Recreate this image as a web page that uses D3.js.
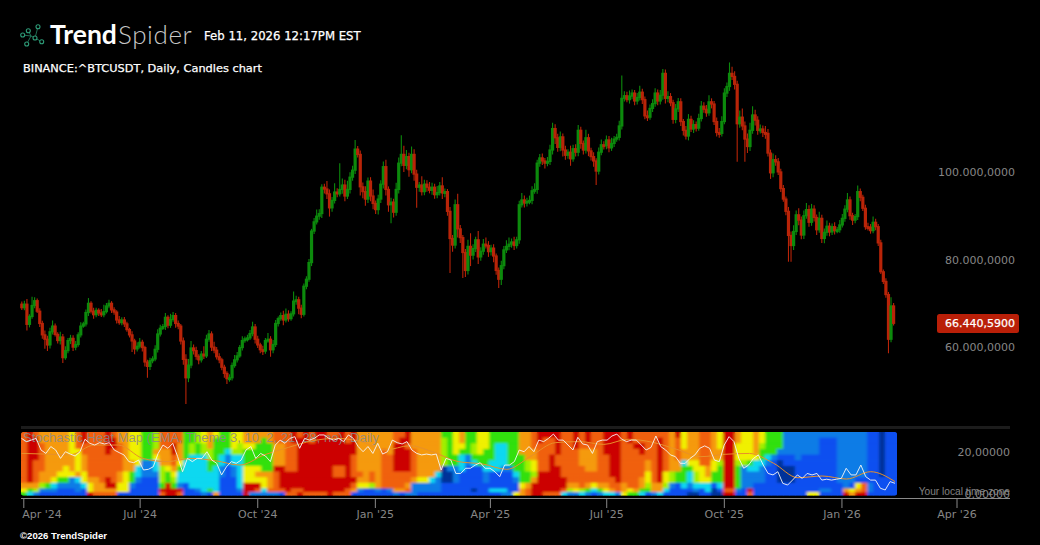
<!DOCTYPE html>
<html><head><meta charset="utf-8">
<script src="https://d3js.org/d3.v7.min.js"></script>
<style>html,body{margin:0;padding:0;background:#000;overflow:hidden}svg{display:block}</style>
</head><body><div id="c"></div>
<script>
// closing prices, thousands USDT, one reading per two trading days from 31 Mar 2024
const closes=[70.0,70.8,66.2,68.0,70.5,71.6,69.2,66.4,63.8,62.8,
61.5,64.5,65.8,63.9,62.5,63.3,58.6,60.2,62.5,63.0,
61.0,61.6,63.8,65.8,66.3,68.9,71.0,69.2,68.4,69.4,
68.8,68.4,69.1,70.4,71.0,69.5,69.0,67.2,66.6,67.2,
66.3,65.0,63.8,62.4,60.6,61.2,62.1,60.9,57.6,56.6,
57.9,58.3,60.5,64.0,65.3,65.7,67.8,66.0,67.3,68.2,
66.4,65.8,62.4,58.2,54.0,56.9,60.8,60.2,58.9,58.1,
59.4,59.0,62.8,64.0,61.0,60.3,58.8,58.1,56.4,55.0,
53.8,54.0,56.8,58.1,59.0,60.9,62.5,62.9,63.1,64.1,
65.6,62.8,61.5,60.4,60.1,62.5,62.8,60.4,61.6,66.4,
67.5,68.2,67.2,68.5,67.5,68.6,71.5,71.8,69.9,68.5,
74.9,76.5,80.3,87.5,89.6,90.9,91.5,97.5,97.1,96.0,
92.8,94.5,96.4,96.0,97.0,98.0,95.5,97.0,99.8,101.4,
106.2,105.0,97.6,96.5,94.8,98.9,95.5,93.8,92.4,94.8,
98.2,102.2,97.0,93.5,94.1,91.8,97.0,103.0,105.0,102.5,
104.5,101.5,105.0,100.5,97.5,98.0,96.5,98.2,97.5,96.8,
97.5,95.8,96.3,97.8,96.2,96.5,92.0,85.8,84.3,93.5,
88.0,86.0,82.6,78.5,84.0,82.0,83.5,85.5,81.6,82.9,
84.5,84.2,82.8,83.6,81.8,78.5,76.5,79.6,83.2,84.0,
84.5,85.0,84.2,85.5,93.5,94.6,93.9,94.3,94.5,96.7,
97.0,103.0,104.2,103.5,103.0,103.4,106.0,110.9,108.8,106.6,
109.0,106.0,104.8,105.5,104.0,106.3,105.5,110.5,107.5,106.0,
108.8,105.8,104.5,103.5,101.2,105.5,107.2,107.0,108.3,106.5,
107.5,108.5,108.9,111.5,117.8,118.4,117.5,118.3,119.0,117.2,
118.0,119.2,117.5,113.8,113.5,115.5,116.6,119.0,117.2,118.5,
123.5,117.8,118.2,116.8,113.0,115.4,117.0,112.5,110.5,109.2,
113.0,110.8,111.8,111.0,113.2,116.0,115.3,114.5,117.0,116.5,
112.5,110.0,109.8,112.5,119.0,120.5,123.5,122.8,121.0,112.0,
113.5,111.5,108.5,106.8,110.5,114.0,112.8,110.5,110.8,110.0,
109.8,105.3,100.8,103.8,103.3,101.0,97.2,94.8,92.0,86.5,
84.2,87.4,91.2,90.0,86.6,91.0,92.4,89.5,92.5,90.6,
87.8,90.4,85.8,87.2,88.6,87.3,88.5,87.6,87.8,88.9,
90.4,92.5,94.6,91.0,90.0,90.8,96.5,95.2,92.7,88.5,
88.4,87.6,89.5,88.5,84.8,78.2,76.0,73.0,62.8,70.4,
66.44];
// wick lengths above and below each candle body, thousands USDT
const upperWicks=[.6,.8,1.2,.5,2,.8,.5,.7,.6,1,
.8,.9,1.3,.6,.5,1.2,.7,1,.6,.8,
.7,.8,.6,.9,.5,.7,1.2,.5,.8,.6,
.5,.9,1.6,.7,.8,.5,.6,.4,.9,.6,
.7,.5,.4,.8,.5,.9,1,.6,.4,.5,
.7,.6,.9,1.1,.8,.6,1,.5,1.3,.8,
.6,.7,.5,.8,1.2,1.4,1.6,.8,.9,.5,
.7,1.8,1,.9,.6,1.2,.7,.8,.5,.6,
.5,.8,.7,1.1,.9,.6,1,.5,.7,.8,
1.2,.7,.8,.5,.9,.6,1.4,.7,1,.8,
.5,.7,1.1,1.3,.9,.6,2.2,.9,.7,.8,
.6,.7,.8,.5,.9,1.5,1,.7,.8,1.8,
1,.8,2,.9,6,1.5,1.2,2,1.1,1,
2.1,.7,.9,1,1.2,.8,.9,1.5,.7,1,
.9,1.2,1.6,.7,1,.8,1.5,1.3,4.4,2,
1.5,.9,1.8,1.2,1,.7,2,1,.9,1.2,
1,.8,1.5,.9,2,.7,.6,1,.8,1.2,
2.5,.9,.6,.8,1.5,3,1,.7,2,.9,
1.2,1.5,1,.8,.9,.6,.7,1.1,.9,1.4,
1.5,.8,1.2,.7,.9,1.6,1,.8,1.1,1,
1.4,.8,.9,1,.7,1,1.2,1.3,1,.9,
1.2,.8,1,.7,1.5,.9,1,1.2,.8,.7,
1.8,.9,.7,1,.6,1.1,1.2,.8,1,.9,
1.3,.7,.8,1.2,5.2,1,.9,1.3,.8,.7,
1,1.5,.8,.7,1.2,.9,1,1.1,.8,1.2,
1,.9,1.2,.8,.7,1.1,.9,.8,.6,1,
1.2,.8,1,.7,1.1,1.2,.9,1,1.5,.8,
.7,.9,1,1.2,1.1,.9,2.5,1.5,1.2,.8,
1.5,2,1,1.3,1.7,2,1.2,.9,1,.8,
1.5,1,.8,1.4,1,.9,.7,.8,.6,1,
.9,1.4,1,1.5,.8,1.2,1.5,1,1.2,.9,
.7,1.5,.8,.9,1.3,.8,.7,1,.6,1.1,
1,.9,1.6,.8,.7,.6,1.4,.7,.6,.8,
.9,.7,1.3,.8,.6,.7,.5,.7,.6,2,
.7];
const lowerWicks=[.5,.6,1.4,.7,.5,.6,.4,.8,.9,2.2,
1.4,.8,.6,.5,.7,.9,1.2,.5,.6,.8,
.9,.7,.5,.6,.4,.6,.8,.5,.9,.6,
.7,.5,.6,.4,.5,.7,.6,.8,.5,.6,
.7,.5,.6,2.5,1.2,.6,.5,.9,1,2.6,
.8,.6,.5,.7,.6,.4,.8,.7,.6,.5,
1,.7,.8,1.2,6,1,.7,.9,.8,1,
.6,.7,.5,.6,.9,.7,.6,.8,.7,1,
1.2,.7,.6,.5,.6,.4,.7,.5,.6,.5,
.6,1,.7,.8,.9,.6,.5,1.6,.8,.6,
.7,.5,1.2,.6,.7,.5,.6,.8,1.4,.9,
.5,.7,.6,.8,.7,.6,.8,1,1,1.2,
2,.9,.7,.8,.6,1,1.2,.7,.9,.8,
.9,.7,2,1.5,1.5,.9,1.2,1.3,1,1.1,
.9,1,1.4,1.6,4.2,1.2,.8,.9,.7,1.5,
.9,1.6,.8,1.5,4.7,1,.9,.8,1,.7,
1,.9,.8,.7,1.4,1,1,7.9,1.5,.8,
2,1.2,5.8,1.5,.9,2.5,1,.8,1.6,.9,
.8,.7,1.2,.9,1.4,1,2,1.3,.8,.7,
.9,.8,1,.7,.9,.6,1,.8,.7,.9,
.7,1,.8,.9,1.2,.7,.8,1,1.4,1,
.9,1.5,1,.8,1.6,.7,1,.9,1.2,1,
.8,1.2,.9,1.3,3.2,.8,.7,.9,.8,1,
.7,.8,.6,.7,.8,.7,.6,.9,.7,1,
.8,.7,1,.8,.9,.6,.8,.7,1,.8,
1,1.2,.9,.8,1,.9,.7,1,1.2,.8,
1,.7,.9,.8,.6,.7,.8,.9,.7,1,
.8,.9,1,.7,.6,.9,1,.8,1.2,8.7,
.9,1,5.2,1.5,1,.8,1.2,1,.7,1,
1.2,.8,1.4,1,.9,.7,.8,.6,.9,6,
3.7,1,.8,1.2,1,.9,.7,1,.8,.9,
1.2,.7,1,1.1,.8,1,.7,.9,.6,.7,
.6,.8,.7,.9,1.1,.7,.8,.9,.6,.7,
.8,.7,.6,.8,.7,.5,.6,.7,3.2,.7,
.5];
// heat-map levels 0 to 9, each string is one column read from top to bottom
const heatColumns=["888888888764","999999999743","899998888752","778888877521","777777777421","777777776321","777777764211","777777664211","666677762211","888666673221",
"998877766311","888888887669","888888887778","888888888778","999988889978","899888888978","778888877661","777777766661","666667744211","666666332111",
"444442221111","444442221111","555763321111","888777555498","888777644999","889988765499","887776433298","444443333111","445533333311","554433333321",
"665533333332","777554433341","644444333337","444433221111","444322111111","666533221111","665533333321","776444666999","776444666992","774444676982",
"744444476632","774444477782","887777988882","887777999981","888888899998","998888899988","899999999989","999999999998","889999999998","999999999998",
"999999999998","899999999999","899999889998","999999889998","889999999988","999988889871","777777787621","777777777611","777777788511","777777777721",
"777888888811","777788888821","889999988872","899999988871","998999988782","777888887222","777777776221","777777776221","777777773221","777777732221",
"455555000111","444444200111","666644222111","776433311111","444422111111","445543111101","666644111111","666444322111","444443311131","443333311131",
"443333211132","444444211112","444444432116","777744444677","777775544788","888776657999","998888899999","988888899998","988899999998","999988999998",
"888888889983","888888888752","999888888762","888777888853","998777788742","888777788631","888888888742","999988888763","999999998873","999999999882",
"888888888776","998888888864","889888888874","889988887743","888887766541","888888888772","899999999773","888888866531","777777755211","988887744111",
"666773444311","777776433210","777776655320","888888666311","888888776331","777776644100","666775444310","999999999989","999999999989","776665444421",
"666665222211","666664322298","777763322111","665443222111","444432111111","444421111111","444210000111","222211000111","222211000111","222221111111",
"222211111111","222211111116","222211111116","211111111121","211111111121","211111111111","222222222111","222222222279","222222222167","222222221679",
"222222221889","111111111221","111111111111","000000001111","111111111111","111111111111"];
const heatPalette=["#003399","#0a50f0","#0a7ce6","#10d8f0","#30e010","#a0f000","#f0f000","#f59a10","#f06010","#cc0000"];
// white %K line and orange %D line of the lower panel
const kLine=[26.8,25.3,26,26.8,21.4,19.8,23,21.4,17.5,20.6,19.5,18.6,20.6,26.4,24.5,23.7,24.8,24.2,24.8,21.4,20.2,19.1,16,15.5,16.7,12.1,12.4,13.6,19.8,23.7,22.2,24.5,18.3,11.3,17.5,16,17.5,17.5,20.6,16.7,15.2,9.8,13.6,16,15.2,
16.7,21.4,23,17.5,19.8,18.6,16,23.7,26,24.5,26.8,27.6,22.2,26.8,26,26.8,28.4,28.4,26.8,26,26.8,25.3,28.4,26.8,23,20.6,23,19.8,24.5,19.5,20.6,26,24.8,24.2,25.3,21.4,19.8,19.1,19.5,19.1,19.5,12.1,17.5,16.7,10.5,
10.5,12.9,12.9,14.4,15.5,12.9,12.9,11.3,9,14.4,14.4,16,21.4,20.6,23,20.6,26,25.3,26.8,28.8,26,26,23.7,21.4,27.3,24.2,23.7,19.8,25.3,26,26,27.9,28.8,26.4,25.3,26,26,23.7,21.4,22.6,27.9,23,21.4,19.1,18.3,15.2,
15.2,17.5,19.1,22.2,23.3,22.2,16.7,16,23.7,27.6,25.3,17.5,12.9,14.4,17.5,19.1,14.4,10.5,9.8,11.3,5.9,5.1,7.4,9.8,8.2,10.5,9.8,10.5,7.4,7.8,7.4,7.8,8.2,12.9,9.8,9.8,14.4,9,7.4,7.4,3.6,2.8,6.7,5.9];
const dLine=[19.8,19.5,19.1,23.7,23.7,17.5,16,17.5,16.4,14.4,19.1,22.6,25.7,26.8,25.3,21.4,23.4,20.3,16,14.9,12.4,18.6,24.8,25.3,24,26.4,25,21.7,18.3,19.4,19.8,15.2,8.5,9.3,7.9,11.3,6.7];
// axis ticks
const priceTicks=[60,80,100];
const priceTickLabels=["60.000,0000","80.000,0000","100.000,0000"];
const lastPriceLabel="66.440,5900";
const indTicks=[0,20];
const indTickLabels=["0,00000","20,00000"];
const timeTicks=["2024-04-01","2024-07-01","2024-10-01","2025-01-01","2025-04-01","2025-07-01","2025-10-01","2026-01-01","2026-04-01"];
const timeTickLabels=["Apr '24","Jul '24","Oct '24","Jan '25","Apr '25","Jul '25","Oct '25","Jan '26","Apr '26"];

const W=1040,H=545,UI='"DejaVu Sans",sans-serif',LS='"Liberation Sans",Arial,sans-serif';
const svg=d3.select("#c").append("svg").attr("width",W).attr("height",H).style("background","#000");
const defs=svg.append("defs");
defs.append("clipPath").attr("id","hc").append("rect").attr("x",21).attr("y",432).attr("width",876).attr("height",63.5).attr("rx",2.5);
const blur=defs.append("filter").attr("id","soft").attr("filterUnits","userSpaceOnUse").attr("x",0).attr("y",420).attr("width",920).attr("height",90);
blur.append("feGaussianBlur").attr("stdDeviation","1.4 1.3");

// logo
const logoN=[[22.7,35],[26.7,44],[28.3,30.7],[38,26.7],[35,38],[41.7,41.7],[31,36]];
const logo=svg.append("g").attr("fill","none").attr("stroke","#2e9c78").attr("stroke-width",1.1);
[[0,6],[1,6],[2,6],[6,4],[4,3],[4,5]].forEach(e=>logo.append("line").attr("x1",logoN[e[0]][0]).attr("y1",logoN[e[0]][1]).attr("x2",logoN[e[1]][0]).attr("y2",logoN[e[1]][1]).attr("stroke-width",.7));
logoN.slice(0,6).forEach(p=>logo.append("circle").attr("cx",p[0]).attr("cy",p[1]).attr("r",2).attr("fill","#000"));
svg.append("text").attr("x",50).attr("y",44).attr("font-family","Lato,sans-serif").attr("font-size",26.5).attr("font-weight",700).attr("fill","#fff").text("Trend");
svg.append("text").attr("x",118).attr("y",44).attr("font-family","Lato,sans-serif").attr("font-size",26).attr("font-weight",300).attr("fill","#c8c8c8").attr("letter-spacing",.6).text("Spider");
svg.append("text").attr("x",204).attr("y",40).attr("font-family",UI).attr("font-size",11.7).attr("fill","#fff").attr("stroke","#fff").attr("stroke-width",.25).text("Feb 11, 2026 12:17PM EST");
svg.append("text").attr("x",23).attr("y",72).attr("font-family",UI).attr("font-size",11.35).attr("fill","#fff").attr("stroke","#fff").attr("stroke-width",.25).text("BINANCE:^BTCUSDT, Daily, Candles chart");

// scales
const y=d3.scaleLinear().domain([60,100]).range([351.5,176.3]);
const yInd=d3.scaleLinear().domain([0,20]).range([496,453]);
const xIdx=d3.scaleLinear().domain([0,closes.length-1]).range([21.8,893.6]);
const xTime=d3.scaleTime().domain([new Date(2024,3,1),new Date(2026,3,1)]).range([23.3,956.5]);
const up="#0c8a0c",dn="#b92408";

// candles
const candles=closes.map((c,i)=>{const o=i?closes[i-1]:70.8;return{i,o,c,h:Math.max(o,c)+upperWicks[i],l:Math.min(o,c)-lowerWicks[i]};});
const gC=svg.append("g");
gC.selectAll("line").data(candles).join("line").attr("x1",d=>xIdx(d.i)).attr("x2",d=>xIdx(d.i)).attr("y1",d=>y(d.h)).attr("y2",d=>y(d.l)).attr("stroke",d=>d.c>=d.o?up:dn).attr("stroke-width",1.1);
gC.selectAll("rect").data(candles).join("rect").attr("x",d=>xIdx(d.i)-1.6).attr("width",3.2).attr("y",d=>y(Math.max(d.o,d.c))-.6).attr("height",d=>Math.max(3,Math.abs(y(d.o)-y(d.c))+1.2)).attr("fill",d=>d.c>=d.o?up:dn);

// price axis: labels sit a little above their level
const gY=svg.append("g").attr("transform","translate(1015,0)").call(d3.axisLeft(y).tickValues(priceTicks).tickSize(0).tickPadding(0).tickFormat((d,i)=>priceTickLabels[i]));
gY.select(".domain").remove();
gY.selectAll("text").attr("dy","-0.6px").attr("font-family",UI).attr("font-size",11).attr("fill","#868686");
svg.append("rect").attr("x",937).attr("y",314).attr("width",82).attr("height",19).attr("rx",2.5).attr("fill","#b91f08");
svg.append("text").attr("x",980).attr("y",323.5).attr("text-anchor","middle").attr("dominant-baseline","central").attr("font-family",UI).attr("font-size",11).attr("fill","#fff").attr("stroke","#fff").attr("stroke-width",.25).text(lastPriceLabel);

// separator
svg.append("rect").attr("x",21).attr("y",426).attr("width",989).attr("height",3).attr("fill","#1c1c1c");

// heat map: the two lowest rows are thinner, as in the reference
const xHeat=d3.scaleBand().domain(d3.range(heatColumns.length)).range([21,897]);
const yHeat=d3.scaleLinear().domain([0,10,12]).range([432,488.5,495.5]);
const cells=heatColumns.flatMap((s,c)=>Array.from(s,(v,r)=>({c,r,v:+v})));
const gHeat=svg.append("g").attr("clip-path","url(#hc)");
[gHeat.append("g"),gHeat.append("g").attr("filter","url(#soft)")].forEach(g=>g.selectAll("rect").data(cells).join("rect")
 .attr("x",d=>xHeat(d.c)).attr("y",d=>yHeat(d.r)).attr("width",xHeat.bandwidth()+.4).attr("height",d=>yHeat(d.r+1)-yHeat(d.r)+.4).attr("fill",d=>heatPalette[d.v]));
svg.append("text").attr("x",23).attr("y",442).attr("font-family",LS).attr("font-size",13).attr("fill","#8a8a8a").attr("fill-opacity",.85).text("Stochastic Heat Map (EMA, Theme 3, 10, 2, 21, 28, no), Daily");
const xK=d3.scaleLinear().domain([0,kLine.length-1]).range([21.5,895]);
const xD=d3.scaleLinear().domain([0,dLine.length-1]).range([21.5,895]);
svg.append("path").attr("d",d3.line().x((d,i)=>xD(i)).y(d=>yInd(d)).curve(d3.curveMonotoneX)(dLine)).attr("fill","none").attr("stroke","#e8902a").attr("stroke-width",1);
svg.append("path").attr("d",d3.line().x((d,i)=>xK(i)).y(d=>yInd(d))(kLine)).attr("fill","none").attr("stroke","#f6f6f6").attr("stroke-width",.9);

// indicator axis
svg.append("text").attr("x",1010).attr("y",495).attr("text-anchor","end").attr("font-family",LS).attr("font-size",10.2).attr("fill","#808080").text("Your local time zone");
const gI=svg.append("g").attr("transform","translate(1010,0)").call(d3.axisLeft(yInd).tickValues(indTicks).tickSize(0).tickPadding(0).tickFormat((d,i)=>indTickLabels[i]));
gI.select(".domain").remove();
gI.selectAll("text").attr("dy","2px").attr("font-family",UI).attr("font-size",11).attr("fill","#868686");
gI.selectAll("text").filter((d,i)=>i===0).attr("dy","1px");

// time axis
const parse=d3.timeParse("%Y-%m-%d");
const gX=svg.append("g").attr("transform","translate(0,498)").call(d3.axisBottom(xTime).tickValues(timeTicks.map(parse)).tickSize(10).tickPadding(2).tickFormat((d,i)=>timeTickLabels[i]));
gX.select(".domain").attr("d","M21,0.5H1010").attr("stroke","#8a8a8a");
gX.selectAll("line").attr("stroke","#8a8a8a");
gX.selectAll("text").attr("font-family",UI).attr("font-size",11).attr("fill","#868686");
gX.selectAll("text").filter((d,i)=>i===0).attr("text-anchor","start").attr("x",-1.5);
svg.append("text").attr("x",20).attr("y",539).attr("font-family",LS).attr("font-size",9.6).attr("font-weight",700).attr("fill","#fff").text("©2026 TrendSpider");
</script></body></html>
